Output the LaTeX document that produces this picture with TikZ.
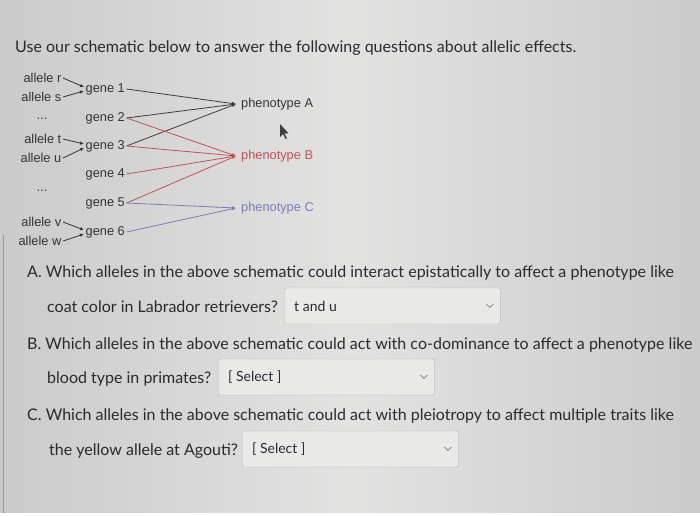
\documentclass[tikz,border=0pt]{standalone}
\usepackage{fontspec}
\setmainfont{Lato}
\newfontfamily\diagfont{Liberation Sans}
\usepackage{tikz}
\usetikzlibrary{arrows.meta}
\definecolor{pagebg}{HTML}{E2E3E1}
\definecolor{pageedge}{HTML}{C4C5C4}
\definecolor{qtext}{HTML}{2A2A2A}
\definecolor{dtext}{HTML}{333333}
\definecolor{linkA}{HTML}{3C3C3C}
\definecolor{linkB}{HTML}{C2505A}
\definecolor{linkC}{HTML}{7C7CB8}
\definecolor{boxfill}{HTML}{E9EAE8}
\definecolor{boxline}{HTML}{B5B6B4}
\newcommand{\allelenode}[3] {\node at (#1) (#2) [diag, anchor=east] {#3};}
\newcommand{\genenode}[3] {\node at (#1) (#2) [diag, anchor=west] {#3};}
\newcommand{\phenonode}[4] {\node at (#1) (#2) [diag, anchor=west, inner xsep=5pt, text=#4] {#3};}
\newcommand{\allelelink}[3] {\draw [tinyarrow, dtext] (#1.east) -- ([yshift=#3]#2.west);}
\newcommand{\genelink}[3] {\draw [tinyarrow, #3] (#1.east) -- (#2.west);}
\newcommand{\selectbox}[3] {\node at (#1) (#2) [selbox] {};
  \node at ([xshift=10pt]#2.west) [qline, font=\fontsize{14}{16}\selectfont] {#3};
  \draw [gray, line width=0.7pt] ([xshift=-14pt, yshift=2pt]#2.east) -- ++(3.5,3.5) -- ++(3.5,-3.5);}

\begin{document}
\begin{tikzpicture}[x=1pt, y=-1pt,
  diag/.style={font=\diagfont\fontsize{12.8}{14}\selectfont, text=dtext, inner sep=1.5pt},
  tinyarrow/.style={-{Latex[length=4pt, width=3.5pt]}, line width=0.8pt},
  qline/.style={anchor=west, inner sep=0pt, text=qtext, font=\fontsize{16}{18}\selectfont},
  selbox/.style={draw=boxline, fill=boxfill, rounded corners=2pt, minimum width=216pt, minimum height=36pt, anchor=west}]
\useasboundingbox (0,0) rectangle (700,515);
\shade [left color=pageedge!80!pagebg, right color=pageedge!90, middle color=pagebg] (0,0) rectangle (700,513);
\fill [white!95!pagebg] (0,513) rectangle (700,515);
\draw [gray!80, line width=0.8pt] (3.5,235) -- (3.5,513);

\node at (15,48) (title) [qline] {Use our schematic below to answer the following questions about allelic effects.};

% alleles
\allelenode {63,78} {ar} {allele r};
\allelenode {63,97} {as} {allele s};
\node at (42,119) (dots1) [diag] {...};
\allelenode {63,139} {at} {allele t};
\allelenode {63,158} {au} {allele u};
\node at (42,191) (dots2) [diag] {...};
\allelenode {63,222} {av} {allele v};
\allelenode {63,241} {aw} {allele w};

% genes
\genenode {84,89} {g1} {gene 1};
\genenode {84,118} {g2} {gene 2};
\genenode {84,146} {g3} {gene 3};
\genenode {84,174} {g4} {gene 4};
\genenode {84,203} {g5} {gene 5};
\genenode {84,232} {g6} {gene 6};

% phenotypes
\phenonode {236,104} {pA} {phenotype A} {dtext};
\phenonode {236,156} {pB} {phenotype B} {linkB};
\phenonode {236,208} {pC} {phenotype C} {linkC};

\allelelink{ar}{g1}{2pt};
\allelelink{as}{g1}{-2pt};
\allelelink{at}{g3}{2pt};
\allelelink{au}{g3}{-2pt};
\allelelink{av}{g6}{2pt};
\allelelink{aw}{g6}{-2pt};

\genelink{g1}{pA}{linkA};
\genelink{g2}{pA}{linkA};
\genelink{g3}{pA}{linkA};
\genelink{g2}{pB}{linkB};
\genelink{g3}{pB}{linkB};
\genelink{g4}{pB}{linkB};
\genelink{g5}{pB}{linkB};
\genelink{g5}{pC}{linkC};
\genelink{g6}{pC}{linkC};

% mouse pointer
\fill [black!75] (280,124) -- (280,137) -- (283,134) -- (285.5,139) -- (287,138.3) -- (284.5,133.5) -- (288.5,133.2) -- cycle;

% questions
\node at (27,273) (qA) [qline] {A. Which alleles in the above schematic could interact epistatically to affect a phenotype like};
\node at (47,307) (qA2) [qline] {coat color in Labrador retrievers?};
\selectbox{284,306}{boxA}{t and u};
\node at (27,345) (qB) [qline] {B. Which alleles in the above schematic could act with co-dominance to affect a phenotype like};
\node at (47,379) (qB2) [qline] {blood type in primates?};
\selectbox{218,377}{boxB}{[ Select ]};
\node at (27,416) (qC) [qline] {C. Which alleles in the above schematic could act with pleiotropy to affect multiple traits like};
\node at (49,451) (qC2) [qline] {the yellow allele at Agouti?};
\selectbox{242,449}{boxC}{[ Select ]};
\end{tikzpicture}
\end{document}
